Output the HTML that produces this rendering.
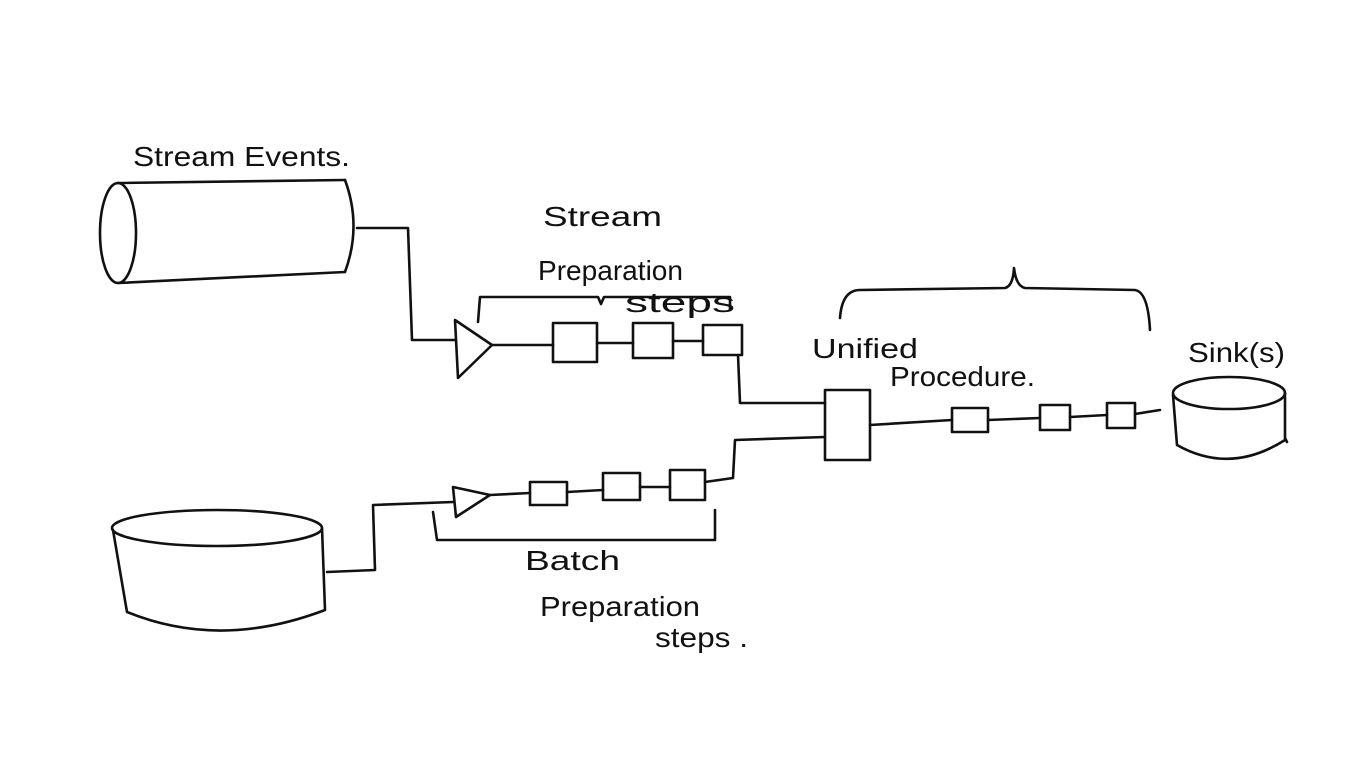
<!DOCTYPE html>
<html><head><meta charset="utf-8"><style>
html,body{margin:0;padding:0;background:#fff;}
svg{display:block}
text{font-family:"Liberation Sans",sans-serif;font-size:28px;fill:#111}
</style></head><body>
<svg width="1358" height="767" viewBox="0 0 1358 767" xmlns="http://www.w3.org/2000/svg">
<g fill="none" stroke="#111" stroke-width="2.6" stroke-linecap="round" stroke-linejoin="round">
<ellipse cx="118" cy="233" rx="18" ry="50"/>
<path d="M118,183 L345,180 M118,283 L345,272"/>
<path d="M345,180 Q362,226 345,272"/>
<path d="M357,228 L408,228 L412,340 L455,340"/>
<path d="M455,320 L492,345 L458,378 Z"/>
<path d="M492,345 L553,345"/>
<rect x="553" y="323" width="44" height="39"/>
<path d="M597,343 L633,343"/>
<rect x="633" y="323" width="40" height="35"/>
<path d="M673,341 L703,341"/>
<rect x="703" y="325" width="39" height="30"/>
<path d="M738,355 L740,403 L825,403"/>
<path d="M478,322 L480,297 L598,297 L601,304 L604,297 L730,297 L730,310"/>
<rect x="825" y="390" width="45" height="70"/>
<path d="M870,425 L952,420"/>
<rect x="952" y="408" width="36" height="24"/>
<path d="M988,420 L1040,418"/>
<rect x="1040" y="405" width="30" height="25"/>
<path d="M1070,417 L1107,415"/>
<rect x="1107" y="403" width="28" height="25"/>
<path d="M1135,414 L1160,410"/>
<path d="M840,318 Q842,290 860,290 L1005,288 Q1013,286 1014,268 Q1016,286 1025,288 L1135,290 Q1148,292 1150,330"/>
<ellipse cx="1229" cy="393" rx="56" ry="16"/>
<path d="M1173,395 L1177,445 Q1230,475 1285,440 L1285,393 M1285,438 L1287,442"/>
<path d="M825,437 L735,440 L733,478 L705,482"/>
<rect x="670" y="470" width="35" height="30"/>
<path d="M670,487 L640,487"/>
<rect x="603" y="473" width="37" height="27"/>
<path d="M603,490 L567,492"/>
<rect x="530" y="482" width="37" height="23"/>
<path d="M530,493 L490,495"/>
<path d="M453,487 L490,495 L456,517 Z"/>
<path d="M453,502 L373,505 L375,570 L327,572"/>
<path d="M433,512 L437,540 L715,540 L715,510"/>
<ellipse cx="217" cy="528" rx="105" ry="18"/>
<path d="M113,530 L127,612 Q220,650 325,610 L322,528"/>
</g>
<text x="133" y="166" textLength="217" lengthAdjust="spacingAndGlyphs">Stream Events.</text>
<text x="543" y="226" textLength="119" lengthAdjust="spacingAndGlyphs">Stream</text>
<text x="538" y="280" textLength="145" lengthAdjust="spacingAndGlyphs">Preparation</text>
<text x="625" y="312" textLength="110" lengthAdjust="spacingAndGlyphs">steps</text>
<text x="812" y="358" textLength="106" lengthAdjust="spacingAndGlyphs">Unified</text>
<text x="890" y="386" textLength="145" lengthAdjust="spacingAndGlyphs">Procedure.</text>
<text x="1188" y="362" textLength="97" lengthAdjust="spacingAndGlyphs">Sink(s)</text>
<text x="525" y="570" textLength="95" lengthAdjust="spacingAndGlyphs">Batch</text>
<text x="540" y="616" textLength="160" lengthAdjust="spacingAndGlyphs">Preparation</text>
<text x="655" y="647" textLength="93" lengthAdjust="spacingAndGlyphs">steps .</text>
</svg>
</body></html>
